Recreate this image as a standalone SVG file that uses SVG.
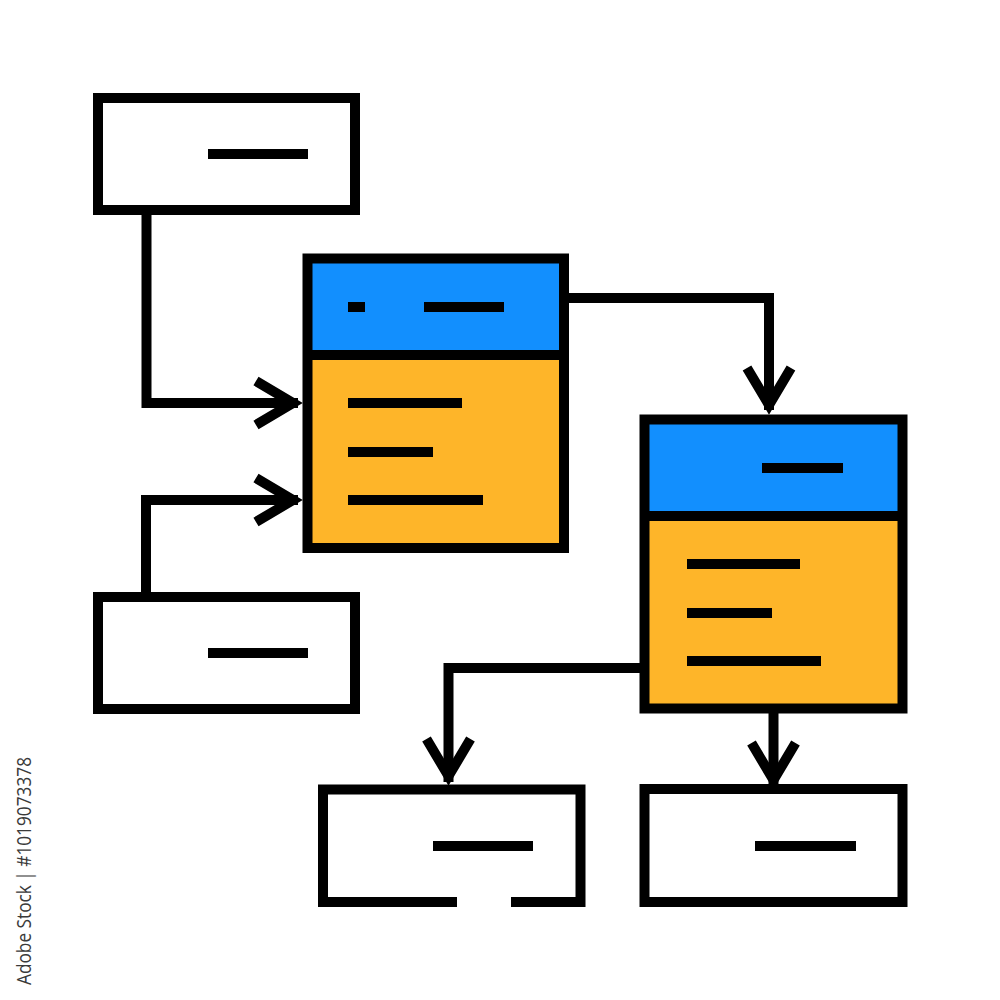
<svg xmlns="http://www.w3.org/2000/svg" width="1000" height="1000" viewBox="0 0 1000 1000">
  <style>
    .box { fill: #ffffff; stroke: #000000; stroke-width: 10; stroke-linejoin: miter; }
    .hdr { fill: #128FFE; }
    .bdy { fill: #FEB529; }
    .frame { fill: none; stroke: #000000; stroke-width: 10; stroke-linejoin: miter; }
    .bar { stroke: #000000; stroke-width: 10; stroke-linecap: butt; }
    .wire { fill: none; stroke: #000000; stroke-width: 10; stroke-linejoin: miter; stroke-linecap: butt; }
    .head { fill: none; stroke: #000000; stroke-width: 10; stroke-linejoin: miter; stroke-miterlimit: 10; stroke-linecap: butt; }
    .wm { font-family: "Open Sans", "Liberation Sans", sans-serif; font-size: 20px; font-weight: 500; fill: #3a3a3a; }
  </style>
  <rect width="1000" height="1000" fill="#ffffff"/>

  <g id="connectors">
    <!-- box1 -> box2 -->
    <path class="wire" d="M146.5 210 V403 H298"/>
    <polyline class="head" points="256,381 293,403 256,425"/>
    <!-- box5 -> box2 -->
    <path class="wire" d="M146 597 V500 H298"/>
    <polyline class="head" points="256,478 293,500 256,522"/>
    <!-- box2 -> box3 -->
    <path class="wire" d="M564 298 H769 V410"/>
    <polyline class="head" points="747,368 769,405 791,368"/>
    <!-- box3 -> box4 -->
    <path class="wire" d="M644 668 H448.5 V782"/>
    <polyline class="head" points="426.5,739 448.5,776 470.5,739"/>
    <!-- box3 -> box6 -->
    <path class="wire" d="M773.5 708 V785"/>
    <polyline class="head" points="751.5,743 773.5,780 795.5,743"/>
  </g>

  <g id="box1">
    <rect class="box" x="98" y="98" width="257" height="112"/>
    <line class="bar" x1="208" y1="154" x2="308" y2="154"/>
  </g>

  <g id="box2">
    <rect class="hdr" x="307.5" y="258.5" width="256.5" height="96.5"/>
    <rect class="bdy" x="307.5" y="355" width="256.5" height="193"/>
    <rect class="frame" x="307.5" y="258.5" width="256.5" height="289.5"/>
    <line class="bar" x1="307.5" y1="355" x2="564" y2="355"/>
    <line class="bar" x1="348" y1="307" x2="365" y2="307"/>
    <line class="bar" x1="424" y1="307" x2="504" y2="307"/>
    <line class="bar" x1="348" y1="403" x2="462" y2="403"/>
    <line class="bar" x1="348" y1="452" x2="433" y2="452"/>
    <line class="bar" x1="348" y1="500" x2="483" y2="500"/>
  </g>

  <g id="box3">
    <rect class="hdr" x="644.5" y="419.5" width="258" height="96.5"/>
    <rect class="bdy" x="644.5" y="516" width="258" height="192.5"/>
    <rect class="frame" x="644.5" y="419.5" width="258" height="289"/>
    <line class="bar" x1="644.5" y1="516" x2="902.5" y2="516"/>
    <line class="bar" x1="762" y1="468" x2="843" y2="468"/>
    <line class="bar" x1="687" y1="564" x2="800" y2="564"/>
    <line class="bar" x1="687" y1="613" x2="772" y2="613"/>
    <line class="bar" x1="687" y1="661" x2="821" y2="661"/>
  </g>

  <g id="box5">
    <rect class="box" x="98" y="597" width="257" height="112"/>
    <line class="bar" x1="208" y1="653" x2="308" y2="653"/>
  </g>

  <g id="box4">
    <path class="frame" d="M457 902 H323 V789.5 H580.5 V902 H511"/>
    <line class="bar" x1="433" y1="846" x2="533" y2="846"/>
  </g>

  <g id="box6">
    <rect class="box" x="644.5" y="789" width="258" height="113"/>
    <line class="bar" x1="755" y1="846" x2="856" y2="846"/>
  </g>

  <text class="wm" transform="translate(31 985) rotate(-90)" textLength="228" lengthAdjust="spacingAndGlyphs">Adobe Stock | #1019073378</text>
</svg>
